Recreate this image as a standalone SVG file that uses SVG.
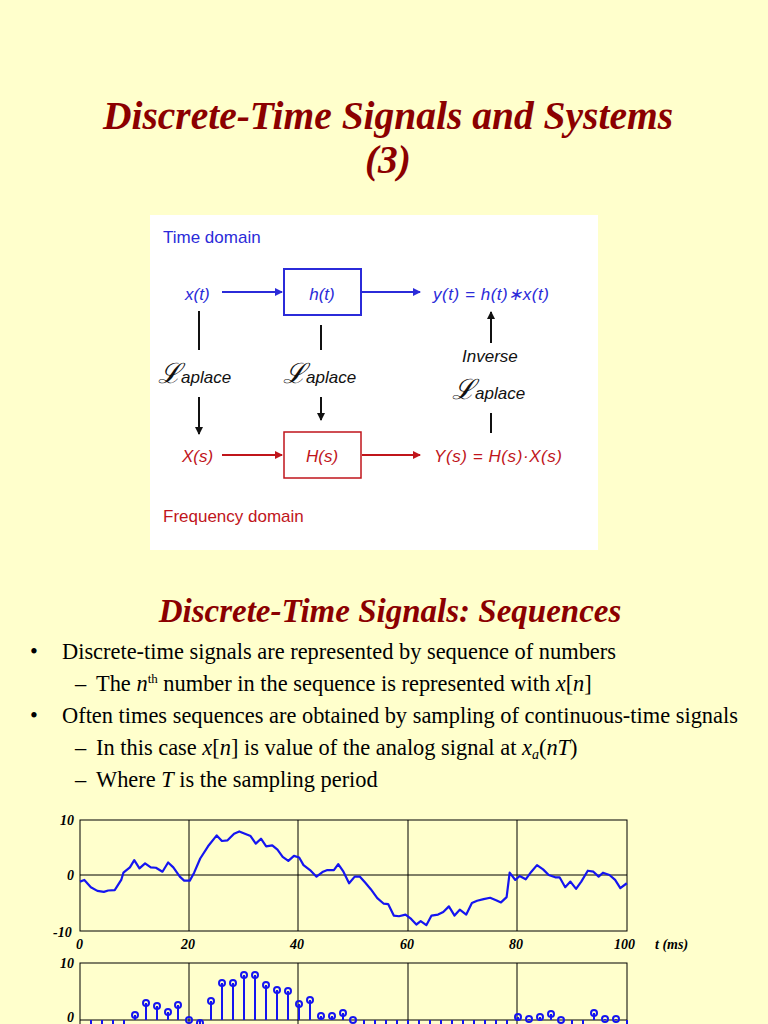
<svg xmlns="http://www.w3.org/2000/svg" width="768" height="1024" viewBox="0 0 768 1024">
<style>
.title{font-family:"Liberation Serif",serif;font-style:italic;font-weight:bold;fill:#8B0000;text-anchor:middle}
.d{font-family:"Liberation Sans",Arial,sans-serif;font-size:17px}
.b{fill:#2B2BD9}.r{fill:#C0151B}.k{fill:#111}
.it{font-style:italic}
.body{font-family:"Liberation Serif",serif;font-size:22.4px;fill:#000}
.ax{font-family:"Liberation Serif",serif;font-size:14px;font-style:italic;font-weight:bold;fill:#000}
.grid{stroke:#000;stroke-width:1;fill:none}
</style>
<defs>
<marker id="ab" markerWidth="8" markerHeight="8" refX="7" refY="4" orient="auto" markerUnits="userSpaceOnUse"><path d="M0,0L8,4L0,8z" fill="#2B2BD9"/></marker>
<marker id="ar" markerWidth="8" markerHeight="8" refX="7" refY="4" orient="auto" markerUnits="userSpaceOnUse"><path d="M0,0L8,4L0,8z" fill="#C0151B"/></marker>
<marker id="ak" markerWidth="8" markerHeight="8" refX="7" refY="4" orient="auto" markerUnits="userSpaceOnUse"><path d="M0,0L8,4L0,8z" fill="#111"/></marker>
</defs>
<rect width="768" height="1024" fill="#FFFFCC"/>
<text class="title" x="388" y="129" font-size="39.5">Discrete-Time Signals and Systems</text>
<text class="title" x="388" y="173" font-size="39.5">(3)</text>
<rect x="150" y="215" width="448" height="335" fill="#fff"/>
<g id="labels" class="d">
<text class="b" x="163" y="243">Time domain</text>
<text class="r" x="163" y="522">Frequency domain</text>
</g>
<g id="n-xt"><text class="d b it" x="185" y="300">x(t)</text></g>
<g id="n-ht"><rect x="284" y="269" width="77" height="46" fill="none" stroke="#2B2BD9" stroke-width="2"/><text class="d b it" x="322" y="300" text-anchor="middle">h(t)</text></g>
<g id="n-yt"><text class="d b it" x="433" y="300" textLength="116">y(t) = h(t)∗x(t)</text></g>
<g id="n-Xs"><text class="d r it" x="182" y="462">X(s)</text></g>
<g id="n-Hs"><rect x="284" y="432" width="77" height="46" fill="none" stroke="#C0151B" stroke-width="1.5"/><text class="d r it" x="322" y="462" text-anchor="middle">H(s)</text></g>
<g id="n-Ys"><text class="d r it" x="434" y="462" textLength="128">Y(s) = H(s)·X(s)</text></g>
<g id="n-lap1"><text class="d k it" x="158" y="383"><tspan font-family="Liberation Serif,serif" font-size="28">ℒ</tspan>aplace</text></g>
<g id="n-lap2"><text class="d k it" x="283" y="383"><tspan font-family="Liberation Serif,serif" font-size="28">ℒ</tspan>aplace</text></g>
<g id="n-inv"><text class="d k it" x="462" y="362">Inverse</text><text class="d k it" x="452" y="399"><tspan font-family="Liberation Serif,serif" font-size="28">ℒ</tspan>aplace</text></g>
<g id="connectors" fill="none" stroke-width="2">
<line x1="222" y1="292" x2="282" y2="292" stroke="#2B2BD9" marker-end="url(#ab)"/>
<line x1="362" y1="292" x2="420" y2="292" stroke="#2B2BD9" marker-end="url(#ab)"/>
<line x1="222" y1="455" x2="282" y2="455" stroke="#C0151B" marker-end="url(#ar)"/>
<line x1="362" y1="455" x2="420" y2="455" stroke="#C0151B" marker-end="url(#ar)"/>
<line x1="199" y1="311" x2="199" y2="350" stroke="#111"/>
<line x1="199" y1="397" x2="199" y2="434" stroke="#111" marker-end="url(#ak)"/>
<line x1="321" y1="325" x2="321" y2="350" stroke="#111"/>
<line x1="321" y1="397" x2="321" y2="420" stroke="#111" marker-end="url(#ak)"/>
<line x1="491" y1="343" x2="491" y2="312" stroke="#111" marker-end="url(#ak)"/>
<line x1="491" y1="413" x2="491" y2="433" stroke="#111"/>
</g>
<text class="title" x="390" y="622" font-size="33">Discrete-Time Signals: Sequences</text>
<g class="body">
<text x="30" y="659">•</text><text x="62" y="659">Discrete-time signals are represented by sequence of numbers</text>
<text x="75" y="691">–</text><text x="96" y="691">The <tspan font-style="italic">n</tspan><tspan font-size="13" dy="-8">th</tspan><tspan dy="8"> number in the sequence is represented with </tspan><tspan font-style="italic">x</tspan>[<tspan font-style="italic">n</tspan>]</text>
<text x="30" y="723">•</text><text x="62" y="723">Often times sequences are obtained by sampling of continuous-time signals</text>
<text x="75" y="755">–</text><text x="96" y="755">In this case <tspan font-style="italic">x</tspan>[<tspan font-style="italic">n</tspan>] is value of the analog signal at <tspan font-style="italic">x</tspan><tspan font-size="14" dy="4" font-style="italic">a</tspan><tspan dy="-4">(</tspan><tspan font-style="italic">nT</tspan>)</text>
<text x="75" y="787">–</text><text x="96" y="787">Where <tspan font-style="italic">T</tspan> is the sampling period</text>
</g>
<g id="plot1">
<rect x="80" y="820" width="547" height="111" class="grid"/>
<line x1="80" y1="875" x2="627" y2="875" class="grid"/>
<line x1="189" y1="820" x2="189" y2="931" class="grid"/><line x1="298" y1="820" x2="298" y2="931" class="grid"/><line x1="408" y1="820" x2="408" y2="931" class="grid"/><line x1="517" y1="820" x2="517" y2="931" class="grid"/>
<polyline transform="translate(80,875) scale(0.434,0.33) translate(-95,-195)" vector-effect="non-scaling-stroke" fill="none" stroke="#1515F0" stroke-width="2.2" stroke-linejoin="round" points="95,215 105,210 120,232 135,243 150,246 160,242 175,241 190,210 195,188 210,172 220,150 232,175 245,160 258,172 270,173 285,185 298,157 310,172 325,200 335,212 348,212 358,188 372,145 390,108 410,75 422,92 435,90 450,70 462,63 475,70 488,77 500,100 512,85 524,108 538,105 550,118 562,140 575,152 588,137 600,142 610,165 625,180 640,200 655,185 665,180 680,180 690,162 702,185 715,220 728,200 740,200 752,218 765,238 780,265 795,282 805,283 818,318 830,320 845,315 858,328 870,345 880,335 893,347 905,318 920,315 932,307 945,290 958,318 970,300 985,315 998,280 1010,273 1025,268 1040,264 1055,272 1065,278 1078,262 1085,188 1098,210 1108,198 1122,208 1135,185 1148,165 1162,178 1175,195 1190,202 1200,202 1213,232 1225,215 1238,237 1250,215 1265,182 1278,185 1290,200 1300,188 1315,195 1328,210 1340,235 1355,220"/>
<g class="ax"><text x="60" y="825">10</text><text x="67" y="880">0</text><text x="53" y="937">-10</text>
<text x="76" y="949">0</text><text x="181" y="949">20</text><text x="290" y="949">40</text><text x="400" y="949">60</text><text x="509" y="949">80</text><text x="614" y="949">100</text><text x="655" y="949">t (ms)</text></g>
</g>
<g id="plot2">
<rect x="80" y="963" width="547" height="80" class="grid"/>
<line x1="80" y1="1020" x2="627" y2="1020" class="grid"/>
<line x1="189" y1="963" x2="189" y2="1030" class="grid"/><line x1="298" y1="963" x2="298" y2="1030" class="grid"/><line x1="408" y1="963" x2="408" y2="1030" class="grid"/><line x1="517" y1="963" x2="517" y2="1030" class="grid"/>
<g class="ax"><text x="60" y="968">10</text><text x="67" y="1022">0</text></g>
<g stroke="#1515F0" stroke-width="2" fill="none">
<path d="M91,1020V1030M102,1020V1030M113,1020V1030M124,1020V1030M200,1020V1030M364,1020V1030M375,1020V1030M386,1020V1030M397,1020V1030M408,1020V1030M419,1020V1030M430,1020V1030M441,1020V1030M452,1020V1030M463,1020V1030M474,1020V1030M485,1020V1030M496,1020V1030M507,1020V1030M572,1020V1030M583,1020V1030M627,1020V1030"/>
<path d="M135,1020V1015M146,1020V1003M157,1020V1006M168,1020V1012M178,1020V1005M211,1020V1001M222,1020V983M233,1020V983M244,1020V975M255,1020V975M266,1020V985M277,1020V990M288,1020V991M299,1020V1004M310,1020V1000M321,1020V1016M332,1020V1016M343,1020V1013M518,1020V1017M529,1020V1019M540,1020V1017M551,1020V1014M594,1020V1013M605,1020V1019M616,1020V1019"/>
<circle cx="135" cy="1015" r="3"/><circle cx="146" cy="1003" r="3"/><circle cx="157" cy="1006" r="3"/><circle cx="168" cy="1012" r="3"/><circle cx="178" cy="1005" r="3"/><circle cx="189" cy="1020" r="3"/><circle cx="200" cy="1023" r="3"/><circle cx="211" cy="1001" r="3"/><circle cx="222" cy="983" r="3"/><circle cx="233" cy="983" r="3"/><circle cx="244" cy="975" r="3"/><circle cx="255" cy="975" r="3"/><circle cx="266" cy="985" r="3"/><circle cx="277" cy="990" r="3"/><circle cx="288" cy="991" r="3"/><circle cx="299" cy="1004" r="3"/><circle cx="310" cy="1000" r="3"/><circle cx="321" cy="1016" r="3"/><circle cx="332" cy="1016" r="3"/><circle cx="343" cy="1013" r="3"/><circle cx="353" cy="1020" r="3"/><circle cx="518" cy="1017" r="3"/><circle cx="529" cy="1019" r="3"/><circle cx="540" cy="1017" r="3"/><circle cx="551" cy="1014" r="3"/><circle cx="561" cy="1020" r="3"/><circle cx="594" cy="1013" r="3"/><circle cx="605" cy="1019" r="3"/><circle cx="616" cy="1019" r="3"/>
</g>
</g>
</svg>
